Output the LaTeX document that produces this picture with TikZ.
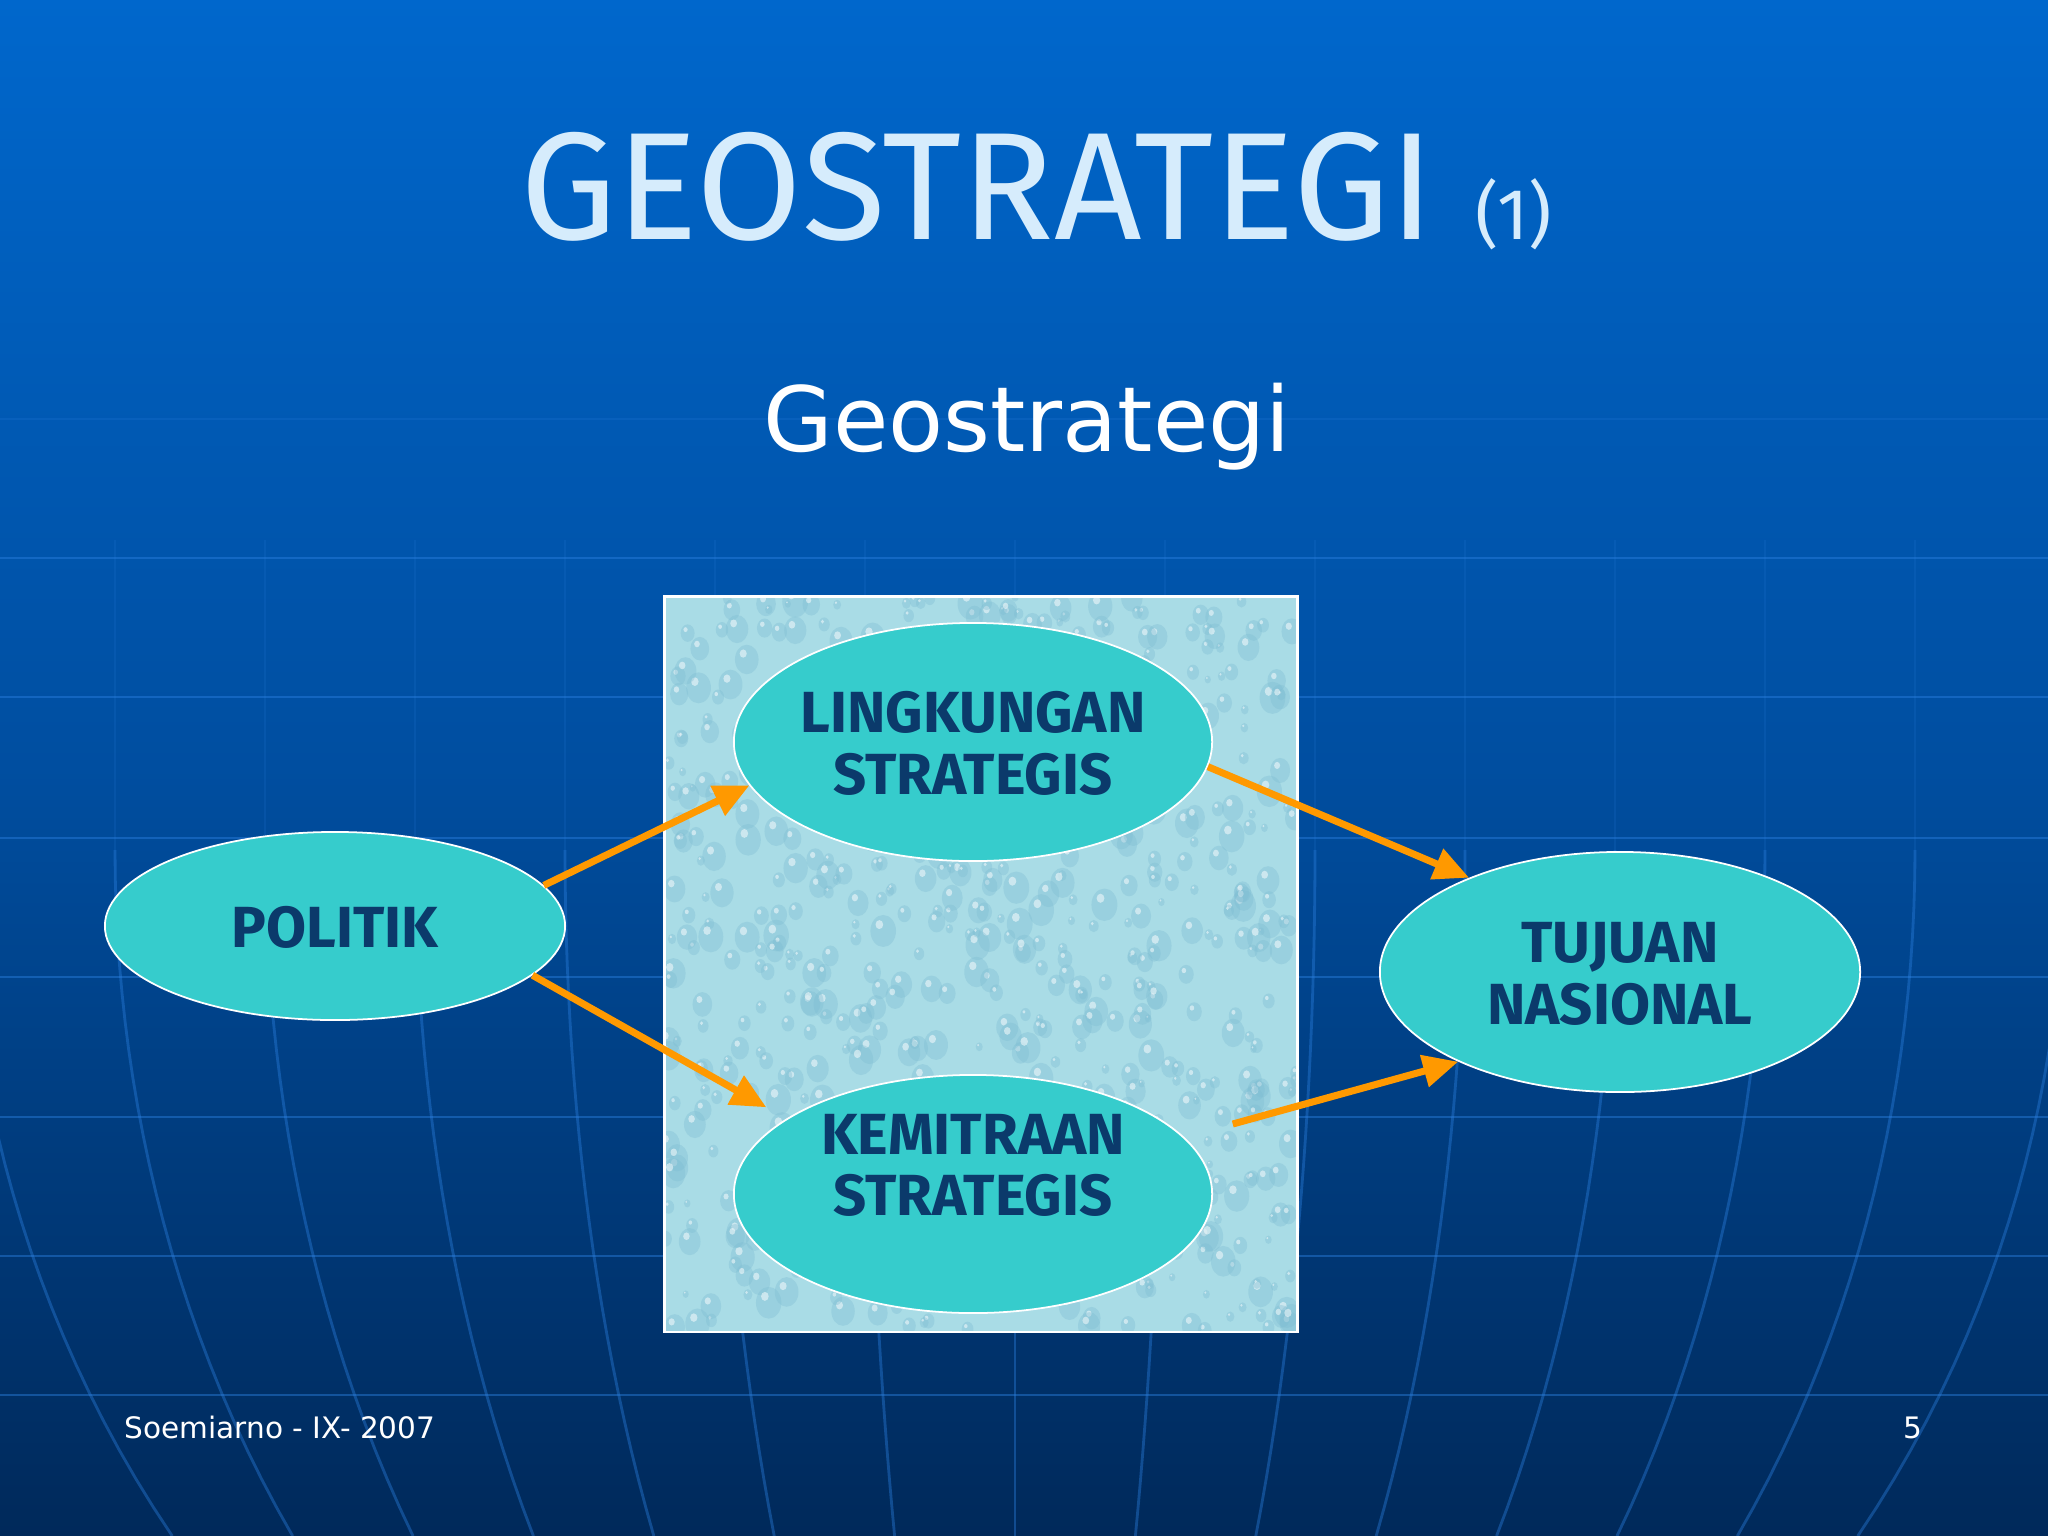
\documentclass[tikz,border=0pt]{standalone}
\usepackage{fontspec}
\setmainfont{DejaVu Sans}
\newfontfamily\comicfont{Fira Sans}
\usetikzlibrary{arrows.meta,shapes.geometric}

\definecolor{bgtop}{HTML}{0067CC}
\definecolor{bgmid}{HTML}{004EA0}
\definecolor{bgbot}{HTML}{00295A}
\definecolor{gridblue}{HTML}{2C80E0}
\definecolor{aqua}{HTML}{36CCCC}
\definecolor{navytext}{HTML}{0B3A6B}
\definecolor{arroworange}{HTML}{FF9900}
\definecolor{waterbg}{HTML}{A9DCE6}
\definecolor{waterdrop}{HTML}{7DBCD2}
\definecolor{titleblue}{HTML}{D6ECFC}

% text of a bubble, kept out of the ellipse size
\newcommand\bubbletext[1]{\makebox[0pt]{\raisebox{-.5\height}[0pt][0pt]{\begin{tabular}[b]{@{}c@{}}#1\end{tabular}}}}

\begin{document}
\begin{tikzpicture}[x=0.01cm, y=-0.01cm,
    bubble/.style={ellipse, draw=white, line width=0.5pt, fill=aqua, inner sep=0pt, text=navytext,
      font=\comicfont\bfseries\fontsize{16.5}{17.4}\selectfont},
    link/.style={-{Triangle[length=10pt,width=9pt]}, line width=2pt, draw=arroworange},
    gridline/.style={gridblue, line width=0.8pt, opacity=0.45}]

    \useasboundingbox (0,0) rectangle (2048,1536);
    \shade[top color=bgtop, bottom color=bgbot, middle color=bgmid] (0,0) rectangle (2048,1536);

    % globe grid behind the slide
    \draw[gridline, opacity=0.2] (0,419) -- (2048,419);
    \foreach \gy in {558,697,838,977,1117,1256,1395}
        \draw[gridline] (0,\gy) -- (2048,\gy);
    \foreach \gd in {-1050,-900,...,1050} {
        \draw[gridline, opacity=0.15] ({1015+(\gd)},540) -- ({1015+(\gd)},850);
        \draw[gridline, opacity=0.4] plot[domain=850:1536, samples=25] ({1015+(\gd)*sqrt(1-((\x-850)/1150)^2)}, \x);
    }

    % water panel
    \node[fill=waterbg, minimum width=6.32cm, minimum height=7.34cm, inner sep=0pt] (water) at (981,964) {};
    \begin{scope}
        \clip (water.south west) rectangle (water.north east);
        \pgfmathsetseed{11}
        \foreach \i in {1,...,700} {
            \pgfmathsetmacro\px{665+632*rnd}
            \pgfmathsetmacro\py{597+734*rnd}
            \pgfmathsetmacro\pr{3+10*rnd}
            \fill[waterdrop, opacity=0.35] (\px,\py) ellipse ({\pr} and {1.25*\pr});
            \fill[white, opacity=0.5] (\px-0.3*\pr,\py-0.5*\pr) ellipse ({0.3*\pr} and {0.35*\pr});
        }
    \end{scope}
    \draw[white, line width=0.8pt] (water.south west) rectangle (water.north east);

    % titles
    \node[font=\comicfont\fontsize{43.5}{50}\selectfont, text=titleblue, anchor=base] (title) at (1036,239)
        {GEOSTRATEGI {\fontsize{20.5}{24}\selectfont (1)}};
    \node[font=\fontsize{25.6}{30}\selectfont, text=white, anchor=base] (subtitle) at (1027,451) {Geostrategi};

    % bubbles
    \node[bubble, minimum width=4.6cm, minimum height=1.88cm] (politik) at (335,926) {\bubbletext{POLITIK}};
    \node[bubble, minimum width=4.78cm, minimum height=2.38cm] (lingkungan) at (973,742) {\bubbletext{LINGKUNGAN\\STRATEGIS}};
    \node[bubble, minimum width=4.78cm, minimum height=2.38cm] (kemitraan) at (973,1194) {\bubbletext{KEMITRAAN\\STRATEGIS\\{}}};
    \node[bubble, minimum width=4.8cm, minimum height=2.4cm] (tujuan) at (1620,972) {\bubbletext{TUJUAN\\NASIONAL}};

    % arrows
    \draw[link] (politik.11) -- (lingkungan.191);
    \draw[link, shorten >=0.23cm] (politik.346) -- (kemitraan.158);
    \draw[link] (lingkungan.354) -- (tujuan.148);
    \draw[link, shorten <=0.5cm] (kemitraan.15) -- (tujuan.209);

    % footer
    \node[font=\fontsize{8.4}{10}\selectfont, text=white, anchor=base west, inner sep=0pt] (author) at (124,1438) {Soemiarno - IX- 2007};
    \node[font=\fontsize{8.4}{10}\selectfont, text=white, anchor=base east, inner sep=0pt] (page) at (1923,1438) {5};
\end{tikzpicture}
\end{document}
